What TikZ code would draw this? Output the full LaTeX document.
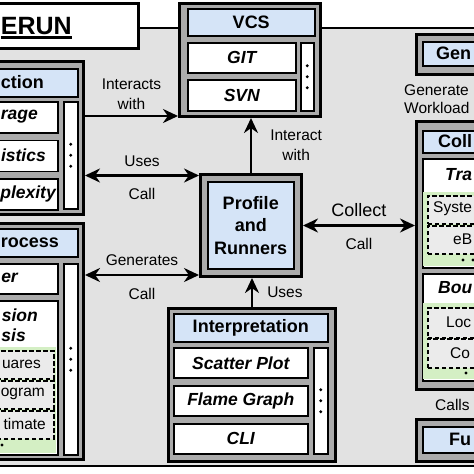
\documentclass[tikz,border=0pt]{standalone}
\usepackage{fontspec}
\setmainfont{Liberation Sans}
\usetikzlibrary{arrows.meta,positioning}
\definecolor{bggray}{HTML}{E2E2E2}
\definecolor{boxgray}{HTML}{ABABAB}
\definecolor{headblue}{HTML}{D5E4F7}
\definecolor{unitgreen}{HTML}{D4EFC4}
\definecolor{dashgray}{HTML}{EBEBEB}
\tikzset{
  outerbox/.style={draw=black, line width=3pt, fill=boxgray, inner sep=0pt, anchor=north west},
  headbox/.style={draw=black, line width=1.5pt, fill=headblue, inner sep=0pt, anchor=north west, font=\fontsize{18}{22.5}\selectfont\bfseries},
  itembox/.style={draw=black, line width=1.5pt, fill=white, inner sep=0pt, anchor=north west, font=\fontsize{17.5}{21}\selectfont\bfseries\itshape},
  dashbox/.style={draw=black, dash pattern=on 4.5pt off 2.5pt, line width=1.6pt, fill=dashgray, inner sep=0pt, anchor=north west},
  headtxt/.style={inner sep=0pt, font=\fontsize{18}{22}\selectfont\bfseries},
  itemtxt/.style={inner sep=0pt, font=\fontsize{17.5}{20}\selectfont\bfseries\itshape},
  lbl/.style={inner sep=0pt, font=\fontsize{15.5}{20}\selectfont},
  arr/.style={line width=2.5pt, -{Stealth[length=15pt,width=14pt]}},
  darr/.style={line width=2.5pt, {Stealth[length=15pt,width=14pt]}-{Stealth[length=15pt,width=14pt]}},
}
\begin{document}
\begin{tikzpicture}[x=1pt,y=-1pt]
\useasboundingbox (0,0) rectangle (474,474);
\clip (0,0) rectangle (474,474);
\fill[white] (0,0) rectangle (474,474);
\draw[fill=bggray, line width=1.2pt] (-20,28) rectangle (500,466);

% title
\node[draw, fill=white, line width=2.5pt, minimum width=177pt, minimum height=45pt, anchor=north west] (ttlbox) at (-40,2) {};
\node[inner sep=0pt, anchor=east, font=\fontsize{25}{30}\selectfont\bfseries] (ttl) at (72,26) {ERUN};
\draw[line width=2.2pt] ([yshift=-2.5pt]ttl.south west) -- ([yshift=-2.5pt]ttl.south east);

% VCS
\node[outerbox, minimum width=141pt, minimum height=113pt] (vcs) at (178,2) {};
\node[headbox, minimum width=127pt, minimum height=27pt] (vcsh) at (187,8) {VCS};
\node[itembox, minimum width=108pt, minimum height=30pt] (git) at (187,42) {GIT};
\node[itembox, minimum width=108pt, minimum height=31pt] (svn) at (187,79) {SVN};
\node[itembox, minimum width=13pt, minimum height=68pt] (vdots) at (300,42) {};

% selection
\node[outerbox, minimum width=142pt, minimum height=153pt] (sel) at (-60,60) {};
\node[headbox, minimum width=137pt, minimum height=28pt] (selh) at (-60,68) {};
\node[headtxt, anchor=east] at (44,82) {ction};
\foreach \name/\y/\t/\xe in {stor/101/rage/38, stat/139.5/istics/46, cplx/178/plexity/56}{
  \node[itembox, minimum width=117pt, minimum height=31pt] (\name) at (-60,\y) {};
  \node[itemtxt, anchor=east] at ({\xe},{\y+15.5}) {\t};}
\node[itembox, minimum width=14pt, minimum height=107pt] (sdots) at (63,101) {};

% postprocess
\node[outerbox, minimum width=142pt, minimum height=236pt] (post) at (-60,222) {};
\node[headbox, minimum width=137pt, minimum height=28pt] (posth) at (-60,228) {};
\node[headtxt, anchor=east] at (59,243) {rocess};
\node[itembox, minimum width=117pt, minimum height=30pt] (norm) at (-60,263) {};
\node[itemtxt, anchor=east] at (18,278) {er};
\node[itembox, minimum width=117pt, minimum height=154pt] (regr) at (-60,300) {};
\fill[unitgreen] (-59,347) rectangle (56.25,453.25);
\node[itemtxt, anchor=east] at (38,315) {sion};
\node[itemtxt, anchor=east] at (26,335) {sis};
\foreach \name/\y/\t/\xe in {lsq/350/uares/41, hist/380/ogram/45, kest/410/timate/46}{
  \node[dashbox, minimum width=113pt, minimum height=28pt] (\name) at (-60,\y) {};
  \node[lbl, anchor=east] at ({\xe},{\y+14}) {\t};}
\foreach \x in {-18,-8,2} \fill (\x,445) circle (1.6pt);
\node[itembox, minimum width=14pt, minimum height=191pt] (pdots) at (63,263) {};

% profile and runners
\node[outerbox, minimum width=101pt, minimum height=102pt] (prof) at (199,173) {};
\node[headbox, minimum width=86pt, minimum height=87pt, align=center] (profi) at (207,181) {Profile\\and\\Runners};

% interpretation
\node[outerbox, minimum width=167pt, minimum height=153pt] (interp) at (167,307) {};
\node[headbox, minimum width=154pt, minimum height=28pt] (interph) at (173,313) {Interpretation};
\node[itembox, minimum width=134pt, minimum height=30pt] (scat) at (173,347) {Scatter Plot};
\node[itembox, minimum width=134pt, minimum height=30pt] (flame) at (173,385) {Flame Graph};
\node[itembox, minimum width=134pt, minimum height=30pt] (cli) at (173,423) {CLI};
\node[itembox, minimum width=14pt, minimum height=106pt] (idots) at (313,347) {};

% generator
\node[outerbox, minimum width=145pt, minimum height=40pt] (gen) at (415,33) {};
\node[headbox, minimum width=130pt, minimum height=24pt] (genh) at (422,41) {};
\node[headtxt, anchor=west] at (436,53) {Gen};
\node[lbl, anchor=west, align=left] at (404,99) {Generate\\[-2pt]Workload};

% collector
\node[outerbox, minimum width=145pt, minimum height=268pt] (coll) at (415,120) {};
\node[headbox, minimum width=130pt, minimum height=22pt] (collh) at (422,130) {};
\node[headtxt, anchor=west] at (438,141) {Coll};
\node[itembox, minimum width=130pt, minimum height=109pt] (trace) at (422,158) {};
\fill[unitgreen] (422.75,192) rectangle (551.25,266.25);
\node[itemtxt, anchor=west] at (445,175) {Tra};
\node[dashbox, minimum width=113pt, minimum height=28pt] (stap) at (427,195) {};
\node[lbl, anchor=west] at (433,209) {Syste};
\node[dashbox, minimum width=113pt, minimum height=28pt] (ebpf) at (427,225) {};
\node[lbl, anchor=west] at (453,239) {eB};
\foreach \x in {463,473,483} \fill (\x,260) circle (1.6pt);
\node[itembox, minimum width=130pt, minimum height=107pt] (bounds) at (422,273) {};
\fill[unitgreen] (422.75,303) rectangle (551.25,379.25);
\node[itemtxt, anchor=west] at (438,288) {Bou};
\node[dashbox, minimum width=113pt, minimum height=30pt] (loc) at (427,307) {};
\node[lbl, anchor=west] at (446,322) {Loc};
\node[dashbox, minimum width=113pt, minimum height=29pt] (cost) at (427,338) {};
\node[lbl, anchor=west] at (450,353) {Co};
\foreach \x in {466,476,486} \fill (\x,373) circle (1.6pt);
\node[lbl, anchor=west] at (435,405) {Calls};

% functions
\node[outerbox, minimum width=145pt, minimum height=42pt] (func) at (415,418) {};
\node[headbox, minimum width=130pt, minimum height=26pt] (funch) at (422,426) {};
\node[headtxt, anchor=west] at (449,439) {Fu};

% dots in the columns
\foreach \c in {vdots,sdots,pdots,idots}{
  \foreach \d in {-11,0,11} \fill ([yshift=\d pt]\c.center) circle (1.6pt);}

% connectors
\coordinate (vin) at ([yshift=2pt]vcs.south west);
\draw[arr] (sel.east |- vin) -- node[lbl, above=5pt, align=center] {Interacts\\with} (vin);
\coordinate (ptop) at ([yshift=-2.5pt]prof.north west);
\draw[darr] (sel.east |- ptop) -- node[lbl, above=8pt] {Uses} node[lbl, below=12pt] {Call} (ptop);
\coordinate (pbot) at ([yshift=3pt]prof.south west);
\draw[darr] (post.east |- pbot) -- node[lbl, above=8pt] {Generates} node[lbl, below=12pt] {Call} (pbot);
\draw[arr] (prof.north) -- node[lbl, right=18pt, align=center] {Interact\\with} (prof.north |- vcs.south);
\draw[darr] (prof.east) -- node[lbl, above=8pt, font=\fontsize{18}{22}\selectfont] {Collect} node[lbl, below=12pt] {Call} (prof.east -| coll.west);
\draw[arr] (interp.north) -- node[lbl, right=14pt] {Uses} (interp.north |- prof.south);
\end{tikzpicture}
\end{document}
